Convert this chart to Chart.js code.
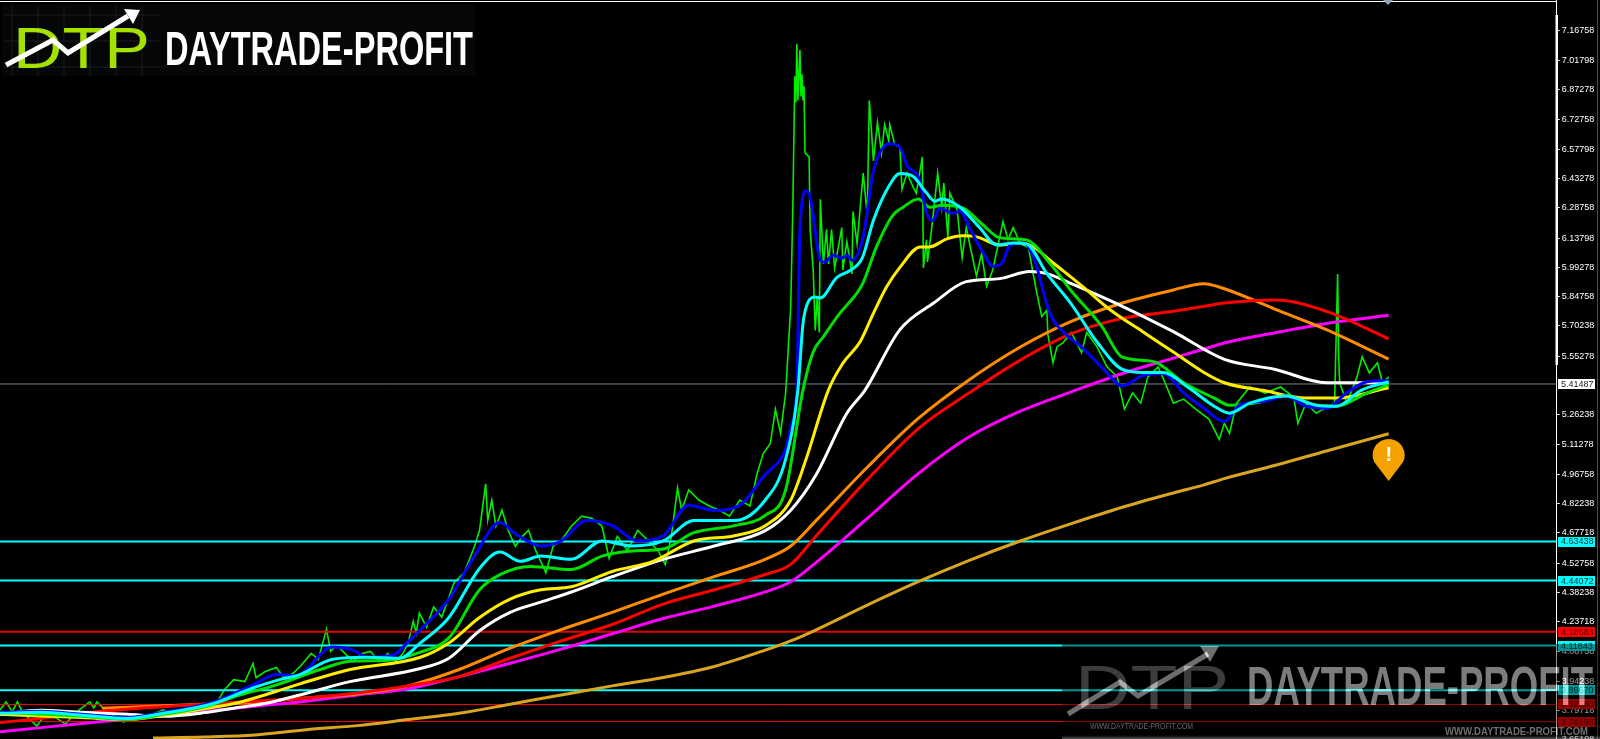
<!DOCTYPE html>
<html>
<head>
<meta charset="utf-8">
<title>DAYTRADE-PROFIT chart</title>
<script src="https://cdn.jsdelivr.net/npm/chart.js@4"></script>
<style>
  html, body { margin: 0; background: #000; overflow: hidden; }
  canvas { display: block; }
</style>
</head>
<body>
<canvas id="chart" width="1600" height="739"></canvas>
<script>
// Price axis
const priceTicks = [7.16758, 7.01798, 6.87278, 6.72758, 6.57798, 6.43278, 6.28758, 6.13798, 5.99278, 5.84758, 5.70238, 5.55278,
    5.26238, 5.11278, 4.96758, 4.82238, 4.67718, 4.52758, 4.38238, 4.23718, 4.08758, 3.94238, 3.79718, 3.65198];
const lastPrice = 5.41487;
const levelPrices = [4.63438, 4.44072, 4.18683, 4.11843, 3.89670, 3.82680, 3.74188];
const pinBar = 1361;
const pinPrice = 5.063;

// Close line
const priceBars = [0, 6, 12, 17, 22, 36, 45, 55, 64, 75, 88, 92, 95, 105, 121, 135, 150, 160, 172, 183, 195, 206, 213, 220, 229, 240, 248, 251, 260, 271, 278, 287, 295, 305, 312, 320, 324, 330, 338, 346, 355, 363, 372, 380, 388, 395, 400, 405, 408, 411, 418, 425, 433, 445, 455, 465, 470, 476, 478, 482, 486, 492, 498, 505, 512, 518, 525, 535, 542, 550, 560, 570, 580, 590, 597, 605, 615, 625, 635, 645, 652, 658, 664, 668, 675, 685, 695, 705, 715, 725, 735, 742, 748, 755, 760, 765, 770, 775, 777, 779, 780, 781, 782, 783, 784, 785, 786, 787, 788, 789, 791, 793, 794, 797, 799, 801, 803, 804, 807, 810, 812, 815, 818, 825, 826, 830, 835, 836, 840, 846, 850, 852, 854, 856, 860, 864, 867, 871, 872, 877, 882, 884, 889, 895, 898, 904, 905, 908, 909, 913, 919, 923, 925, 929, 931, 938, 943, 947, 957, 962, 967, 973, 983, 988, 993, 1000, 1008, 1013, 1016, 1021, 1026, 1027, 1032, 1036, 1042, 1050, 1060, 1065, 1075, 1085, 1095, 1102, 1110, 1118, 1125, 1135, 1142, 1150, 1160, 1172, 1185, 1195, 1200, 1205, 1212, 1225, 1240, 1255, 1268, 1272, 1280, 1290, 1300, 1308, 1311, 1312, 1313, 1320, 1330, 1335, 1342, 1350, 1355, 1361];
const priceVals = [3.80, 3.84, 3.79, 3.84, 3.79, 3.72, 3.78, 3.76, 3.73, 3.79, 3.84, 3.81, 3.84, 3.79, 3.74, 3.77, 3.78, 3.80, 3.78, 3.80, 3.78, 3.79, 3.84, 3.90, 3.95, 3.94, 4.03, 3.96, 3.99, 4.01, 3.96, 3.98, 4.02, 4.08, 4.05, 4.20, 4.09, 4.12, 4.08, 4.04, 4.08, 4.09, 4.04, 4.08, 4.04, 4.08, 4.13, 4.24, 4.18, 4.28, 4.21, 4.31, 4.26, 4.43, 4.48, 4.61, 4.69, 4.92, 4.74, 4.84, 4.71, 4.79, 4.69, 4.61, 4.66, 4.69, 4.59, 4.48, 4.61, 4.64, 4.71, 4.76, 4.75, 4.71, 4.55, 4.66, 4.59, 4.69, 4.64, 4.59, 4.52, 4.66, 4.90, 4.79, 4.89, 4.84, 4.81, 4.79, 4.76, 4.84, 4.81, 4.97, 5.07, 5.12, 5.29, 5.17, 5.37, 5.80, 6.28, 6.94, 6.81, 7.10, 6.82, 6.95, 7.07, 6.84, 6.95, 6.82, 6.89, 6.56, 6.55, 6.54, 6.18, 5.98, 5.68, 5.85, 5.67, 6.33, 6.01, 6.18, 6.01, 6.18, 5.99, 6.19, 5.98, 6.12, 5.96, 6.27, 6.11, 6.46, 6.25, 6.82, 6.68, 6.52, 6.71, 6.56, 6.70, 6.62, 6.70, 6.60, 6.59, 6.38, 6.46, 6.39, 6.36, 6.54, 5.99, 6.13, 6.02, 6.18, 6.46, 6.29, 6.41, 6.14, 6.36, 6.28, 6.04, 6.19, 5.95, 6.06, 5.90, 5.98, 6.22, 6.13, 6.19, 6.11, 6.09, 5.95, 5.87, 5.75, 5.78, 5.66, 5.52, 5.60, 5.62, 5.67, 5.57, 5.67, 5.60, 5.50, 5.45, 5.29, 5.37, 5.32, 5.45, 5.50, 5.42, 5.32, 5.34, 5.29, 5.24, 5.14, 5.22, 5.17, 5.32, 5.40, 5.37, 5.40, 5.35, 5.22, 5.32, 5.27, 5.30, 5.32, 5.96, 5.55, 5.42, 5.32, 5.45, 5.55, 5.47, 5.52, 5.42, 5.45];

// Fast moving averages
const blueBars = [0, 40, 80, 125, 160, 209, 248, 271, 290, 326, 346, 360, 385, 402, 412, 440, 465, 490, 505, 530, 550, 575, 600, 625, 650, 675, 700, 725, 750, 765, 770, 776, 781, 784, 790, 794, 804, 808, 817, 825, 830, 835, 846, 856, 872, 882, 889, 901, 908, 914, 921, 934, 941, 951, 964, 973, 982, 990, 1003, 1013, 1029, 1045, 1060, 1080, 1100, 1120, 1140, 1160, 1180, 1200, 1215, 1240, 1260, 1280, 1300, 1320, 1340, 1361];
const blueVals = [3.788, 3.793, 3.778, 3.763, 3.788, 3.838, 3.924, 3.975, 3.970, 4.111, 4.096, 4.061, 4.071, 4.147, 4.197, 4.349, 4.562, 4.728, 4.673, 4.612, 4.637, 4.738, 4.713, 4.637, 4.663, 4.814, 4.789, 4.814, 4.966, 5.042, 5.092, 5.219, 5.386, 6.180, 6.372, 6.342, 6.028, 6.018, 6.053, 6.038, 6.053, 6.028, 6.144, 6.468, 6.605, 6.589, 6.498, 6.428, 6.266, 6.225, 6.286, 6.261, 6.271, 6.180, 6.063, 5.998, 6.013, 6.104, 6.114, 6.043, 5.765, 5.659, 5.598, 5.497, 5.406, 5.457, 5.467, 5.371, 5.295, 5.229, 5.310, 5.330, 5.356, 5.305, 5.295, 5.371, 5.426, 5.431];

const cyanBars = [0, 40, 80, 125, 160, 210, 248, 274, 294, 326, 360, 392, 412, 440, 470, 490, 510, 530, 560, 590, 620, 650, 680, 720, 750, 770, 782, 787, 792, 799, 804, 820, 833, 845, 856, 872, 882, 895, 908, 916, 923, 941, 960, 977, 993, 1006, 1026, 1050, 1075, 1100, 1120, 1140, 1165, 1190, 1205, 1225, 1260, 1290, 1310, 1335, 1361];
const cyanVals = [3.783, 3.788, 3.773, 3.757, 3.783, 3.833, 3.909, 3.950, 3.975, 4.051, 4.061, 4.056, 4.132, 4.258, 4.501, 4.582, 4.536, 4.562, 4.546, 4.637, 4.612, 4.637, 4.738, 4.738, 4.840, 5.042, 5.386, 5.714, 5.821, 5.846, 5.841, 5.942, 5.977, 6.038, 6.225, 6.402, 6.458, 6.443, 6.362, 6.321, 6.332, 6.291, 6.190, 6.104, 6.114, 6.109, 5.962, 5.811, 5.624, 5.487, 5.472, 5.472, 5.396, 5.305, 5.270, 5.320, 5.356, 5.310, 5.305, 5.386, 5.426];

const limeBars = [0, 80, 125, 160, 203, 229, 271, 314, 343, 380, 412, 440, 470, 490, 520, 560, 590, 620, 650, 680, 720, 750, 770, 787, 797, 807, 823, 840, 846, 859, 875, 885, 900, 911, 924, 944, 963, 980, 1006, 1029, 1050, 1080, 1100, 1130, 1160, 1190, 1205, 1230, 1260, 1290, 1310, 1340, 1361];
const limeVals = [3.788, 3.768, 3.752, 3.778, 3.818, 3.864, 3.924, 4.000, 4.041, 4.046, 4.086, 4.157, 4.395, 4.470, 4.511, 4.496, 4.562, 4.587, 4.597, 4.678, 4.713, 4.764, 4.890, 5.386, 5.573, 5.649, 5.765, 5.866, 5.917, 6.094, 6.251, 6.291, 6.332, 6.291, 6.301, 6.286, 6.205, 6.139, 6.129, 6.013, 5.876, 5.699, 5.548, 5.527, 5.421, 5.345, 5.310, 5.320, 5.356, 5.310, 5.305, 5.371, 5.411];

const yellowBars = [0, 80, 125, 160, 203, 235, 294, 343, 412, 440, 470, 500, 530, 560, 600, 640, 680, 720, 750, 775, 790, 812, 826, 843, 856, 869, 882, 902, 911, 928, 944, 957, 980, 1000, 1013, 1029, 1060, 1090, 1120, 1150, 1180, 1200, 1240, 1280, 1310, 1361];
const yellowVals = [3.778, 3.762, 3.752, 3.773, 3.808, 3.838, 3.929, 4.000, 4.061, 4.132, 4.258, 4.349, 4.395, 4.410, 4.486, 4.536, 4.637, 4.663, 4.713, 4.840, 5.042, 5.386, 5.517, 5.624, 5.765, 5.897, 5.993, 6.094, 6.094, 6.134, 6.149, 6.144, 6.104, 6.114, 6.094, 6.028, 5.902, 5.775, 5.674, 5.573, 5.472, 5.421, 5.381, 5.345, 5.345, 5.396];

const whiteBars = [0, 40, 80, 125, 160, 203, 235, 261, 294, 343, 412, 440, 470, 500, 530, 560, 600, 650, 700, 750, 775, 800, 830, 848, 882, 915, 947, 980, 1009, 1026, 1050, 1100, 1150, 1200, 1250, 1300, 1361];
const whiteVals = [3.778, 3.798, 3.788, 3.778, 3.768, 3.788, 3.813, 3.833, 3.874, 3.940, 4.005, 4.056, 4.192, 4.283, 4.334, 4.384, 4.460, 4.546, 4.612, 4.688, 4.789, 4.966, 5.270, 5.386, 5.684, 5.816, 5.922, 5.937, 5.972, 5.962, 5.912, 5.800, 5.674, 5.537, 5.487, 5.421, 5.421];

// Slow moving averages share one set of bars
const slowBars = [0, 50, 100, 150, 200, 250, 300, 350, 400, 450, 500, 550, 600, 650, 700, 750, 775, 800, 850, 900, 950, 1000, 1050, 1100, 1150, 1180, 1200, 1250, 1300, 1361];
const orangeVals = [null, null, 3.808, 3.818, 3.828, 3.838, 3.859, 3.879, 3.919, 4.000, 4.106, 4.198, 4.283, 4.374, 4.460, 4.546, 4.612, 4.739, 5.002, 5.244, 5.436, 5.598, 5.725, 5.816, 5.881, 5.912, 5.887, 5.785, 5.684, 5.538];
const redVals = [3.737, 3.763, 3.793, 3.813, 3.828, 3.843, 3.859, 3.884, 3.919, 3.965, 4.056, 4.142, 4.223, 4.324, 4.395, 4.471, 4.521, 4.663, 4.941, 5.194, 5.371, 5.533, 5.664, 5.740, 5.775, 5.800, 5.816, 5.831, 5.775, 5.639];
const magentaVals = [3.692, 3.717, 3.742, 3.767, 3.793, 3.818, 3.843, 3.874, 3.904, 3.965, 4.031, 4.101, 4.177, 4.253, 4.314, 4.385, 4.435, 4.531, 4.749, 4.971, 5.153, 5.280, 5.376, 5.467, 5.543, 5.588, 5.618, 5.669, 5.715, 5.755];
const goldVals = [null, null, null, 3.661, 3.666, 3.676, 3.702, 3.722, 3.752, 3.783, 3.828, 3.874, 3.919, 3.960, 4.015, 4.096, 4.142, 4.197, 4.319, 4.435, 4.541, 4.637, 4.723, 4.804, 4.875, 4.915, 4.946, 5.012, 5.083, 5.168];

const lastBar = 1525.7;
const axisFont = '"Liberation Sans", sans-serif';
const levelStyles = [
    { color: '#00ffff', width: 2, box: '#00ffff', text: '#003333' },
    { color: '#00ffff', width: 2, box: '#00ffff', text: '#003333' },
    { color: '#e00000', width: 2, box: '#ff0000', text: '#5a0000' },
    { color: '#00ffff', width: 2, box: '#00ffff', text: '#003333' },
    { color: '#00ffff', width: 2, box: '#00ffff', text: '#003333' },
    { color: '#ff0000', width: 1, box: '#ff0000', text: '#5a0000' },
    { color: '#ff0000', width: 1, box: '#ff0000', text: '#5a0000' }
];

function toPoints(bars, vals) {
    return bars.map((bar, i) => ({ x: bar, y: vals[i] }));
}

function maLine(label, bars, vals, color) {
    return {
        label: label,
        data: toPoints(bars, vals),
        borderColor: color,
        borderWidth: 3,
        pointRadius: 0,
        cubicInterpolationMode: 'monotone',
        fill: false
    };
}

function levelLine(price, color, width) {
    return {
        label: 'level ' + price,
        data: [{ x: 0, y: price }, { x: lastBar, y: price }],
        borderColor: color,
        borderWidth: width,
        pointRadius: 0,
        fill: false
    };
}

// Squeezes text into a box, since the logo lettering is wider or narrower than any installed font
function fitText(ctx, text, x, top, w, h, font, color) {
    const size = h / 0.72;
    ctx.save();
    ctx.font = font.replace('SIZE', size + 'px');
    ctx.textAlign = 'left';
    ctx.textBaseline = 'alphabetic';
    const measured = ctx.measureText(text).width;
    ctx.translate(x, top + h);
    ctx.scale(w / measured, 1);
    ctx.fillStyle = color;
    ctx.fillText(text, 0, 0);
    ctx.restore();
}

function drawArrow(ctx, pts, head, color, width) {
    ctx.save();
    ctx.strokeStyle = color;
    ctx.fillStyle = color;
    ctx.lineWidth = width;
    ctx.lineJoin = 'miter';
    ctx.beginPath();
    pts.forEach((p, i) => i ? ctx.lineTo(p[0], p[1]) : ctx.moveTo(p[0], p[1]));
    ctx.stroke();
    ctx.beginPath();
    head.forEach((p, i) => i ? ctx.lineTo(p[0], p[1]) : ctx.moveTo(p[0], p[1]));
    ctx.closePath();
    ctx.fill();
    ctx.restore();
}

function drawLogo(ctx) {
    const bold = 'bold SIZE "Liberation Sans", sans-serif';
    const thin = 'SIZE "Liberation Sans", sans-serif';
    ctx.save();
    ctx.fillStyle = '#050608';
    ctx.fillRect(2, 4, 473, 72);
    ctx.strokeStyle = '#1c1c1c';
    ctx.lineWidth = 1;
    for (let x = 12; x < 160; x += 26) {
        ctx.beginPath(); ctx.moveTo(x, 6); ctx.lineTo(x, 76); ctx.stroke();
    }
    for (let y = 15; y < 76; y += 26) {
        ctx.beginPath(); ctx.moveTo(3, y); ctx.lineTo(160, y); ctx.stroke();
    }
    ctx.restore();
    fitText(ctx, 'DTP', 13, 27, 137, 41, thin, '#a4e000');
    drawArrow(ctx, [[6, 65], [53, 40], [68, 53], [128, 16]], [[140, 10], [124, 9], [133, 24]], '#ffffff', 5);
    fitText(ctx, 'DAYTRADE-PROFIT', 165, 30, 308, 35, bold, '#ffffff');
}

function drawWatermark(ctx) {
    const bold = 'bold SIZE "Liberation Sans", sans-serif';
    const thin = 'SIZE "Liberation Sans", sans-serif';
    ctx.save();
    ctx.fillStyle = 'rgba(0, 0, 0, 0.42)';
    ctx.fillRect(1062, 644, 538, 95);
    ctx.globalCompositeOperation = 'lighter';
    fitText(ctx, 'DTP', 1075, 664, 154, 45, thin, '#3c3c3c');
    drawArrow(ctx, [[1068, 714], [1120, 682], [1138, 696], [1208, 654]], [[1219, 646], [1200, 646], [1210, 662]], '#6e6e6e', 5);
    fitText(ctx, 'DAYTRADE-PROFIT', 1247, 665, 346, 40, bold, '#7c7c7c');
    fitText(ctx, 'WWW.DAYTRADE-PROFIT.COM', 1090, 723, 103, 6, thin, '#666666');
    fitText(ctx, 'WWW.DAYTRADE-PROFIT.COM', 1445, 727, 143, 8, bold, '#707070');
    const band = ctx.createLinearGradient(0, 735, 0, 739);
    band.addColorStop(0, 'rgba(60,60,60,0)');
    band.addColorStop(1, 'rgba(90,90,90,1)');
    ctx.fillStyle = band;
    ctx.fillRect(1062, 735, 538, 4);
    ctx.restore();
}

function drawPin(ctx, x, y) {
    const r = 16;
    ctx.save();
    ctx.fillStyle = '#f5a100';
    ctx.beginPath();
    ctx.arc(x, y, r, Math.PI * 0.85, Math.PI * 0.15);
    ctx.lineTo(x, y + 26);
    ctx.closePath();
    ctx.fill();
    ctx.fillStyle = '#ffffff';
    ctx.font = 'bold 21px "Liberation Sans", sans-serif';
    ctx.textAlign = 'center';
    ctx.textBaseline = 'middle';
    ctx.fillText('!', x, y);
    ctx.restore();
}

function priceBox(ctx, y, price, box, text) {
    ctx.fillStyle = box;
    ctx.fillRect(1558, Math.round(y) - 5, 37, 10);
    ctx.fillStyle = text;
    ctx.font = '9px ' + axisFont;
    ctx.textAlign = 'left';
    ctx.textBaseline = 'middle';
    ctx.fillText(price.toFixed(5), 1561, y + 0.5);
}

const decorPlugin = {
    id: 'decor',
    afterDatasetsDraw(chart) {
        const ctx = chart.ctx;
        const yScale = chart.scales.y;
        const xScale = chart.scales.x;
        ctx.save();
        // frame
        ctx.fillStyle = '#ffffff';
        ctx.fillRect(0, 1, 1557, 1);
        ctx.fillRect(1555.5, 15, 2.5, 350);
        ctx.fillStyle = '#4a4f55';
        ctx.fillRect(1597, 0, 1, 739);
        ctx.fillStyle = '#8fa3b5';
        ctx.beginPath();
        ctx.moveTo(1383, 0); ctx.lineTo(1393, 0); ctx.lineTo(1388, 5);
        ctx.closePath();
        ctx.fill();

        priceBox(ctx, yScale.getPixelForValue(lastPrice), lastPrice, '#ffffff', '#222222');
        levelPrices.forEach((price, i) => {
            priceBox(ctx, yScale.getPixelForValue(price), price, levelStyles[i].box, levelStyles[i].text);
        });
        ctx.restore();
        drawPin(ctx, xScale.getPixelForValue(pinBar), yScale.getPixelForValue(pinPrice));
    },
    afterDraw(chart) {
        drawLogo(chart.ctx);
        drawWatermark(chart.ctx);
    }
};

const datasets = [
    maLine('MA cyan', cyanBars, cyanVals, '#00ffff'),
    maLine('MA blue', blueBars, blueVals, '#0000ff'),
    maLine('MA lime', limeBars, limeVals, '#00e000'),
    maLine('MA yellow', yellowBars, yellowVals, '#ffee00'),
    maLine('MA white', whiteBars, whiteVals, '#ffffff'),
    maLine('MA red', slowBars, redVals, '#ff0000'),
    maLine('MA orange', slowBars, orangeVals, '#ff8c00'),
    maLine('MA magenta', slowBars, magentaVals, '#ff00ff'),
    maLine('MA gold', slowBars, goldVals, '#daa520'),
    ...levelPrices.map((price, i) => levelLine(price, levelStyles[i].color, levelStyles[i].width)),
    levelLine(lastPrice, '#77818c', 1),
    {
        label: 'Close',
        data: toPoints(priceBars, priceVals),
        borderColor: '#00ee00',
        borderWidth: 1.6,
        pointRadius: 0,
        tension: 0,
        fill: false
    }
];

new Chart(document.getElementById('chart'), {
    type: 'line',
    data: { datasets: datasets },
    plugins: [decorPlugin],
    options: {
        responsive: false,
        animation: false,
        events: [],
        layout: { padding: 0 },
        plugins: {
            legend: { display: false },
            tooltip: { enabled: false }
        },
        scales: {
            x: {
                type: 'linear',
                display: false,
                min: 0,
                max: lastBar
            },
            y: {
                position: 'right',
                min: 3.6557,
                max: 7.3177,
                afterFit(scale) {
                    scale.width = 43.3;
                    scale.paddingTop = 0;
                    scale.paddingBottom = 0;
                },
                afterBuildTicks(scale) {
                    scale.ticks = priceTicks.map(v => ({ value: v }));
                },
                border: { color: '#ffffff', width: 1 },
                grid: {
                    drawOnChartArea: false,
                    color: '#ffffff',
                    tickLength: 3
                },
                ticks: {
                    color: '#ffffff',
                    padding: 2,
                    autoSkip: false,
                    maxRotation: 0,
                    font: { family: axisFont, size: 9 },
                    callback: v => v.toFixed(5)
                }
            }
        }
    }
});
</script>
</body>
</html>
